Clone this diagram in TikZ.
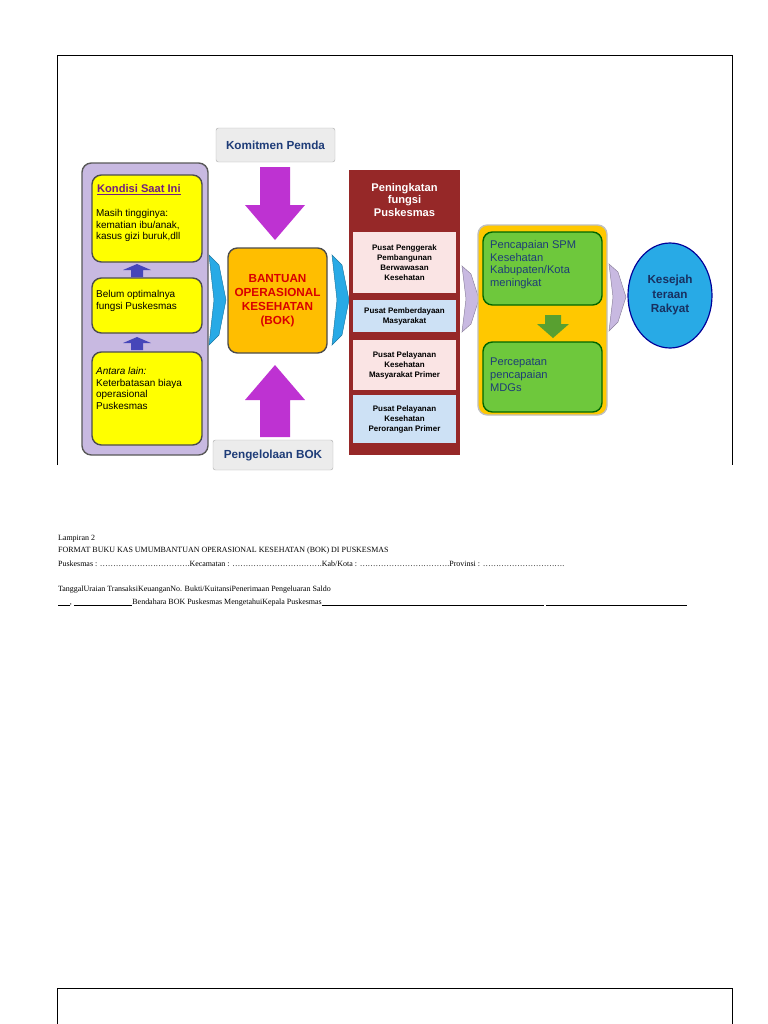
\documentclass[tikz,border=0pt]{standalone}
\usepackage{fontspec}
\setmainfont{Liberation Sans}
\newfontfamily\serifdoc{Liberation Serif}
\usetikzlibrary{positioning}
\definecolor{lav}{RGB}{200,185,225}
\definecolor{ylw}{RGB}{255,255,0}
\definecolor{bok}{RGB}{255,190,0}
\definecolor{purp}{RGB}{190,50,210}
\definecolor{dred}{RGB}{150,40,40}
\definecolor{pinkb}{RGB}{250,228,228}
\definecolor{blueb}{RGB}{205,225,245}
\definecolor{gold}{RGB}{255,200,0}
\definecolor{grn}{RGB}{110,200,60}
\definecolor{cyanar}{RGB}{40,170,230}
\definecolor{navy}{RGB}{30,60,120}
\begin{document}
\begin{tikzpicture}[x=0.03cm,y=-0.03cm,
  panel/.style={draw=gray!70!black,rounded corners=8pt,line width=1.2pt},
  ybox/.style={panel,fill=ylw,draw=gray!60!black},
  small/.style={font=\bfseries\fontsize{6.8}{8.5}\selectfont,align=center},
  chev/.style={fill=cyanar,draw=cyanar!70!black},
  lchev/.style={fill=lav,draw=lav!70!black}]
\useasboundingbox (0,0) rectangle (768,1024);
% frames
\draw[line width=0.8pt] (57,465) -- (57,55) -- (732,55) -- (732,465);
\draw[line width=0.8pt] (57,1024) -- (57,988) -- (732,988) -- (732,1024);
% left panel
\draw[panel,fill=lav] (82,163) rectangle (208,455);
\draw[ybox] (92,175) rectangle (202,262);
\draw[ybox] (92,278) rectangle (202,333);
\draw[ybox] (92,352) rectangle (202,445);
\node[anchor=north west,font=\bfseries\fontsize{9.5}{11}\selectfont,text=purp!60!black] (kond) at (93,180) {\underline{Kondisi Saat Ini}};
\node[anchor=north west,align=left,font=\fontsize{8.5}{10}\selectfont] (masih) at (92,205) {Masih tingginya:\\kematian ibu/anak,\\kasus gizi buruk,dll};
\node[anchor=north west,align=left,font=\fontsize{8.5}{10}\selectfont] (belum) at (92,286) {Belum optimalnya\\fungsi Puskesmas};
\node[anchor=north west,align=left,font=\fontsize{8.5}{10}\selectfont] (antara) at (92,363) {\textit{Antara lain:}\\Keterbatasan biaya\\operasional\\Puskesmas};
\foreach \y in {264,337}
  \fill[blue!45!gray] (131,\y+13) rectangle (143,\y+6) -- (151,\y+6) -- (137,\y) -- (123,\y+6) -- (131,\y+6);
% chevrons
\draw[chev] (209,255) -- (219,265) -- (226,300) -- (219,335) -- (209,345) -- (214,300) -- cycle;
\draw[chev] (332,255) -- (342,265) -- (349,300) -- (342,335) -- (332,345) -- (337,300) -- cycle;
% BOK
\node[draw=gray!60!black,line width=1.2pt,fill=bok,rounded corners=8pt,minimum width=99*0.03cm,minimum height=105*0.03cm,
  text=red!85!black,font=\bfseries\fontsize{10}{12}\selectfont,align=center] (bok) at (277.5,300.5)
  {BANTUAN\\OPERASIONAL\\KESEHATAN\\(BOK)};
\node[fill=gray!15,draw=gray!60,rounded corners=2pt,text=navy,font=\bfseries\fontsize{10}{12}\selectfont,minimum width=119*0.03cm,minimum height=34*0.03cm] (komit) at (275.5,145) {Komitmen Pemda};
\node[fill=gray!15,draw=gray!60,rounded corners=2pt,text=navy,font=\bfseries\fontsize{10}{12}\selectfont,minimum width=120*0.03cm,minimum height=30*0.03cm] (kelola) at (273,455) {Pengelolaan BOK};
\fill[purp] (260,167) -- (290,167) -- (290,205) -- (305,205) -- (275,240) -- (245,205) -- (260,205) -- cycle;
\fill[purp] (260,437) -- (290,437) -- (290,400) -- (305,400) -- (275,365) -- (245,400) -- (260,400) -- cycle;
% fungsi column
\fill[dred] (349,170) rectangle (460,455);
\node[text=white,font=\bfseries\fontsize{9.5}{11}\selectfont,align=center] (fungsi) at (404.5,200) {Peningkatan\\fungsi\\Puskesmas};
\node[fill=pinkb,minimum width=103*0.03cm,minimum height=61*0.03cm,small] (p1) at (404.5,262.5) {Pusat Penggerak\\Pembangunan\\Berwawasan\\Kesehatan};
\node[fill=blueb,minimum width=103*0.03cm,minimum height=32*0.03cm,small] (p2) at (404.5,316) {Pusat Pemberdayaan\\Masyarakat};
\node[fill=pinkb,minimum width=103*0.03cm,minimum height=50*0.03cm,small] (p3) at (404.5,365) {Pusat Pelayanan\\Kesehatan\\Masyarakat Primer};
\node[fill=blueb,minimum width=103*0.03cm,minimum height=48*0.03cm,small] (p4) at (404.5,419) {Pusat Pelayanan\\Kesehatan\\Perorangan Primer};
\draw[lchev] (462,266) -- (471,274) -- (479,299) -- (471,324) -- (462,332) -- (466,299) -- cycle;
% SPM panel
\draw[panel,fill=gold,draw=gray!50] (478,225) rectangle (607,415);
\draw[panel,fill=grn,draw=green!40!black] (483,232) rectangle (602,305);
\draw[panel,fill=grn,draw=green!40!black] (483,342) rectangle (602,412);
\node[anchor=north west,align=left,text=navy,font=\fontsize{9.5}{11}\selectfont] (spm) at (486,236) {Pencapaian SPM\\Kesehatan\\Kabupaten/Kota\\meningkat};
\node[anchor=north west,align=left,text=navy,font=\fontsize{9.5}{11}\selectfont] (mdg) at (486,354) {Percepatan\\pencapaian\\MDGs};
\fill[grn!80!black] (545,315) -- (561,315) -- (561,324) -- (569,324) -- (553,338) -- (537,324) -- (545,324) -- cycle;
\draw[lchev] (609,264) -- (618,272) -- (626,297) -- (618,322) -- (609,331) -- (613,297) -- cycle;
\draw[fill=cyanar,draw=blue!60!black,line width=1pt] (670,295.5) ellipse (42 and 52.5);
\node[text=navy!80!black,font=\bfseries\fontsize{10}{12}\selectfont,align=center] (rakyat) at (670,295) {Kesejah\\teraan\\Rakyat};
% text
\begin{scope}[font=\serifdoc\fontsize{6.8}{8}\selectfont]
\node[anchor=west] (t1) at (54,539) {Lampiran 2};
\node[anchor=west] (t2) at (54,551) {FORMAT BUKU KAS UMUMBANTUAN OPERASIONAL KESEHATAN (BOK) DI PUSKESMAS};
\node[anchor=west] (t3) at (54,564) {Puskesmas : \ldots\ldots\ldots\ldots\ldots\ldots\ldots\ldots\ldots\ldots\ldots .Kecamatan : \ldots\ldots\ldots\ldots\ldots\ldots\ldots\ldots\ldots\ldots\ldots .Kab/Kota : \ldots\ldots\ldots\ldots\ldots\ldots\ldots\ldots\ldots\ldots\ldots .Provinsi : \ldots\ldots\ldots\ldots\ldots\ldots\ldots\ldots\ldots\ldots .};
\node[anchor=west] (t4) at (54,590) {TanggalUraian TransaksiKeuanganNo. Bukti/KuitansiPenerimaan Pengeluaran Saldo};
\node[anchor=west] (t5) at (54,603) {\rule{10pt}{0.2pt}, \rule{50pt}{0.2pt}Bendahara BOK Puskesmas MengetahuiKepala Puskesmas\rule{190pt}{0.2pt} \rule{120pt}{0.2pt}};
\end{scope}
\end{tikzpicture}
\end{document}
